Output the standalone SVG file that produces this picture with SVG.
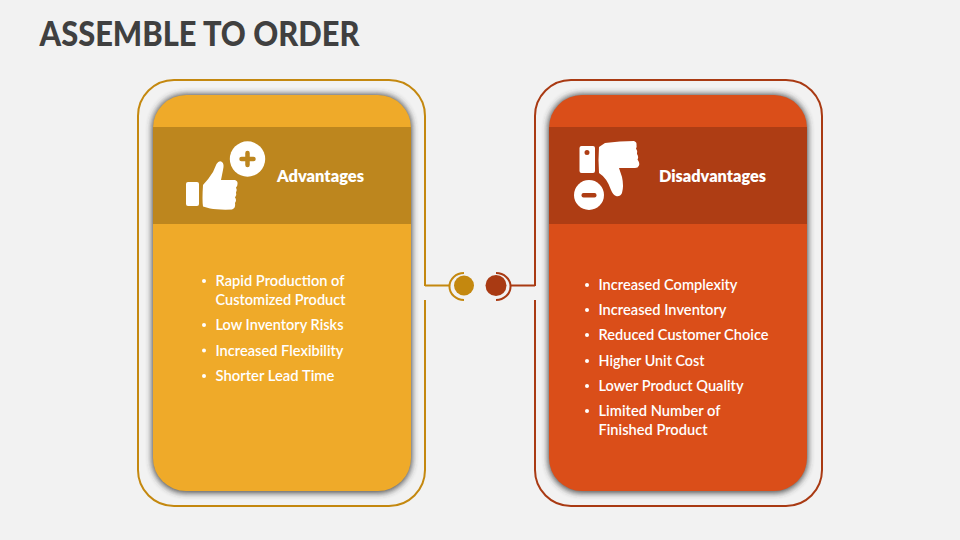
<svg xmlns="http://www.w3.org/2000/svg" width="960" height="540" viewBox="0 0 960 540">
<style>
text{font-family:"Lato","Liberation Sans",sans-serif}
.title{font-size:33.5px;font-weight:900;fill:#404040}
.head{font-size:16.2px;font-weight:800;fill:#fff}
.item{font-size:14.6px;font-weight:600;fill:#fff}
.o1{fill:none;stroke:#c4880f;stroke-width:2}
.o2{fill:none;stroke:#a93a13;stroke-width:2}
.w{fill:#fff}
</style>
<defs>
<filter id="sh" x="-10%" y="-10%" width="120%" height="120%"><feGaussianBlur stdDeviation="3"/></filter>
<clipPath id="c1"><rect x="153" y="95" width="258" height="396" rx="33"/></clipPath>
<clipPath id="c2"><rect x="549" y="95" width="258" height="396" rx="33"/></clipPath>
</defs>
<rect width="960" height="540" fill="#f2f2f2"/>
<text class="title" x="39.500" y="46" textLength="320" lengthAdjust="spacingAndGlyphs">ASSEMBLE TO ORDER</text>
<g id="connectors">
<path class="o1" d="M425 286V116a36 36 0 0 0-36-36H174a36 36 0 0 0-36 36V470a36 36 0 0 0 36 36H389a36 36 0 0 0 36-36V300"/>
<path class="o1" d="M425 285.500H450"/>
<path class="o1" d="M464 273a14 13 0 0 0 0 27"/>
<path class="o2" d="M535 286V116a36 36 0 0 1 36-36H786a36 36 0 0 1 36 36V470a36 36 0 0 1-36 36H571a36 36 0 0 1-36-36V300"/>
<path class="o2" d="M535 285.500H510"/>
<path class="o2" d="M496 273a14 13 0 0 1 0 27"/>
</g>
<g id="dot-left"><circle cx="464" cy="285.500" r="10" fill="#c4880f"/></g>
<g id="dot-right"><circle cx="496" cy="285.500" r="10.500" fill="#a93a13"/></g>
<g id="advantages">
<rect x="152" y="94" width="260" height="399" rx="34" fill="#333" opacity=".85" filter="url(#sh)"/>
<rect x="153" y="95" width="258" height="396" rx="33" fill="#efaa29"/>
<rect x="153" y="127" width="258" height="97" fill="#bd861e" clip-path="url(#c1)"/>
<circle class="w" cx="247.500" cy="159" r="17.700"/>
<path d="M247.500 153v12M241.500 159h12" stroke="#bd861e" stroke-width="4.500" stroke-linecap="round" fill="none"/>
<rect class="w" x="186" y="182" width="13" height="24" rx="2"/>
<path class="w" d="M203 185Q208 180 213 172L216.500 164Q219 160 222 162Q224.500 164 223 170L221 180H235Q238 181 237.500 184Q237.500 186 236 187.500Q237.500 190 236 192.500Q237 195 235 197.500Q237 200 235 203Q236 208 232 209.500Q218 210 210 208.500L203 206.500Q202 200 203 185Z"/>
<text class="head" x="277" y="181.500" textLength="87" lengthAdjust="spacingAndGlyphs">Advantages</text>
<g class="items">
<circle class="w" cx="204" cy="281" r="2"/><text class="item" x="215.500" y="286" textLength="129" lengthAdjust="spacingAndGlyphs">Rapid Production of</text>
<text class="item" x="215.500" y="305" textLength="130" lengthAdjust="spacingAndGlyphs">Customized Product</text>
<circle class="w" cx="204" cy="325" r="2"/><text class="item" x="215.500" y="330" textLength="128" lengthAdjust="spacingAndGlyphs">Low Inventory Risks</text>
<circle class="w" cx="204" cy="350.500" r="2"/><text class="item" x="215.500" y="356" textLength="128" lengthAdjust="spacingAndGlyphs">Increased Flexibility</text>
<circle class="w" cx="204" cy="376" r="2"/><text class="item" x="215.500" y="381" textLength="119" lengthAdjust="spacingAndGlyphs">Shorter Lead Time</text>
</g>
</g>
<g id="disadvantages">
<rect x="548" y="94" width="260" height="399" rx="34" fill="#333" opacity=".85" filter="url(#sh)"/>
<rect x="549" y="95" width="258" height="396" rx="33" fill="#da4e19"/>
<rect x="549" y="127" width="258" height="97" fill="#ae3d14" clip-path="url(#c2)"/>
<path class="w" d="M581.500 146Q579.500 146 579.500 148V171Q579.500 173 581.500 173H593Q595 173 595 171V148Q595 146 593 146ZM587 150a2.500 2.500 0 1 1 0 5a2.500 2.500 0 1 1 0-5Z" fill-rule="evenodd"/>
<path class="w" d="M599 147L605 143Q620 141 634 141Q637 142 636.500 145Q637 147 636 148.500Q638 151 637 154Q639 157 637.500 159.500Q640 163 639 165.500Q638 168 635 168H619L622 177Q624 186 622 193Q620 197 616 196Q613 195 611 190Q607 178 599 173Q598 160 599 147Z"/>
<circle class="w" cx="589" cy="195" r="15"/>
<rect x="581.500" y="193" width="15" height="4.500" rx="2" fill="#ae3d14"/>
<text class="head" x="659" y="181.500" textLength="107" lengthAdjust="spacingAndGlyphs">Disadvantages</text>
<g class="items">
<circle class="w" cx="587" cy="285" r="2"/><text class="item" x="598.500" y="290" textLength="139" lengthAdjust="spacingAndGlyphs">Increased Complexity</text>
<circle class="w" cx="587" cy="310" r="2"/><text class="item" x="598.500" y="315" textLength="128" lengthAdjust="spacingAndGlyphs">Increased Inventory</text>
<circle class="w" cx="587" cy="335" r="2"/><text class="item" x="598.500" y="340" textLength="170" lengthAdjust="spacingAndGlyphs">Reduced Customer Choice</text>
<circle class="w" cx="587" cy="361" r="2"/><text class="item" x="598.500" y="366" textLength="106" lengthAdjust="spacingAndGlyphs">Higher Unit Cost</text>
<circle class="w" cx="587" cy="386" r="2"/><text class="item" x="598.500" y="391" textLength="145" lengthAdjust="spacingAndGlyphs">Lower Product Quality</text>
<circle class="w" cx="587" cy="411" r="2"/><text class="item" x="598.500" y="416" textLength="122" lengthAdjust="spacingAndGlyphs">Limited Number of</text>
<text class="item" x="598.500" y="435" textLength="109" lengthAdjust="spacingAndGlyphs">Finished Product</text>
</g>
</g>
</svg>
